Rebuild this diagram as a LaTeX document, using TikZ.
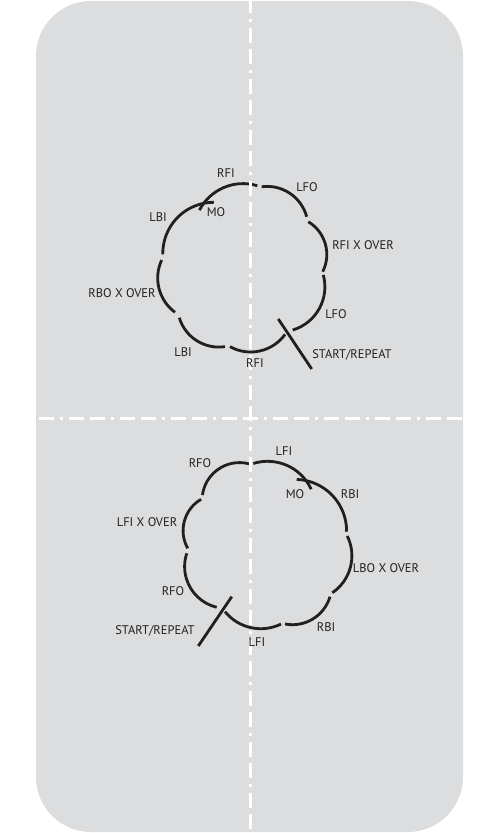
\documentclass[tikz,border=0pt]{standalone}
\usepackage{fontspec}
\setmainfont{PT Sans}
\definecolor{rinkgray}{RGB}{220,221,223}
\definecolor{ink}{RGB}{35,31,32}
\newcommand\skatearc[5]{\draw[skate] (#1,#2) ++(#4:#3) arc[start angle=#4, end angle=#5, radius=#3];}
\begin{document}
\begin{tikzpicture}[x=1pt,y=-1pt,
  skate/.style={line width=2.8pt, draw=ink, line cap=butt},
  lbl/.style={font=\fontsize{12.5}{14}\selectfont, text=ink, inner sep=0pt},
  centerline/.style={draw=white, line width=3pt, dash pattern=on 3pt off 6pt on 15pt off 6pt on 15pt off 6pt}]
\useasboundingbox (0,0) rectangle (500,833);
\fill[rinkgray, rounded corners=55pt] (36,1) rectangle (463,832);

% ---------- top figure ----------
\skatearc{243}{232.6}{49}{207.3}{287}
\skatearc{213.9}{253.4}{51.1}{270}{179}
\skatearc{200.4}{278}{42.7}{204.9}{126.5}
\skatearc{218.9}{305.7}{41.4}{163.1}{81.5}
\skatearc{250.6}{309.5}{42.5}{119}{35.8}
\skatearc{279.8}{286.8}{45.1}{73.4}{-15.2}
\skatearc{288.5}{254.5}{38.3}{26.7}{-58.9}
\skatearc{267.1}{227.4}{41}{-15.1}{-97.6}
\coordinate (s1a) at (278.3,319);
\coordinate (s1b) at (311.7,369);
\draw[skate] (s1a) -- (s1b);

% ---------- bottom figure ----------
\skatearc{239.5}{500}{37.4}{187.7}{284.8}
\skatearc{267.6}{509.3}{48}{252.7}{335.3}
\skatearc{295}{531}{51.6}{-88.1}{0.8}
\skatearc{307.2}{555.8}{44.7}{-26.3}{55.8}
\skatearc{292.5}{585.6}{39.1}{16.5}{101.1}
\skatearc{260.8}{582.6}{46.1}{64}{140.9}
\skatearc{226.4}{566.6}{41.8}{103.4}{198.5}
\skatearc{219.4}{530.6}{36.3}{150.8}{239.6}
\coordinate (s2a) at (231.7,596.7);
\coordinate (s2b) at (198.3,646);
\draw[skate] (s2a) -- (s2b);

% center lines
\coordinate (vtop) at (250,0);
\coordinate (vbot) at (250,833);
\coordinate (hleft) at (36,418);
\coordinate (hright) at (463,418);
\draw[centerline, dash phase=32pt] (vtop) -- (vbot);
\draw[centerline, dash phase=27pt] (hleft) -- (hright);

% labels top
\node[lbl] (t1) at (226,173) {RFI};
\node[lbl] (t2) at (158,217) {LBI};
\node[lbl] (t3) at (216,212) {MO};
\node[lbl] (t4) at (307,187) {LFO};
\node[lbl] (t5) at (363,245) {RFI X OVER};
\node[lbl] (t6) at (336,314) {LFO};
\node[lbl] (t7) at (352,355) {START/REPEAT};
\node[lbl] (t8) at (255,363) {RFI};
\node[lbl] (t9) at (183,352) {LBI};
\node[lbl] (t10) at (122,293) {RBO X OVER};

% labels bottom
\node[lbl] (b1) at (200,463) {RFO};
\node[lbl] (b2) at (147,522) {LFI X OVER};
\node[lbl] (b3) at (173,591) {RFO};
\node[lbl] (b4) at (155,631) {START/REPEAT};
\node[lbl] (b5) at (257,642) {LFI};
\node[lbl] (b6) at (326,627) {RBI};
\node[lbl] (b7) at (386,568) {LBO X OVER};
\node[lbl] (b8) at (350,494) {RBI};
\node[lbl] (b9) at (295,494) {MO};
\node[lbl] (b10) at (284,451) {LFI};
\end{tikzpicture}
\end{document}
